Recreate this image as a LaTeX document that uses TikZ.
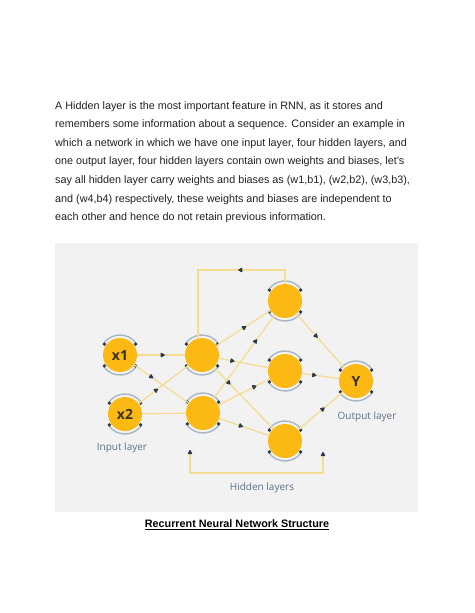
\documentclass[tikz,border=0pt]{standalone}
\usepackage{fontspec}
\setmainfont{Liberation Sans}
\newfontfamily\osans{Open Sans}
\usetikzlibrary{arrows.meta,decorations.markings,calc}
\definecolor{panelc}{HTML}{F2F2F2}
\definecolor{nodec}{HTML}{FDB913}
\definecolor{linec}{HTML}{F4DD92}
\definecolor{arrc}{HTML}{2C3B4A}
\definecolor{ringc}{HTML}{A8B6C4}
\definecolor{labc}{HTML}{5C7088}
\definecolor{txtc}{HTML}{222222}
\definecolor{nlabc}{HTML}{3A3320}
\tikzset{
  neuron/.style={circle, fill=nodec, minimum size=34pt, inner sep=0pt, outer sep=0pt,
    font=\osans\bfseries\fontsize{14}{14}\selectfont, text=nlabc},
  conn/.style={draw=linec, line width=1.3pt},
  midarr/.style={postaction={decorate}, decoration={markings,
    mark=at position #1 with {\arrow{Triangle[length=5pt,width=5pt,round,color=arrc]}}}},
  ring/.style={draw=ringc, line width=1.4pt},
  ringdot/.style={fill=arrc},
  para/.style={anchor=base west, inner sep=0pt, text=txtc, font=\fontsize{10.8}{13}\selectfont},
  layerlab/.style={text=labc, font=\osans\fontsize{10}{12}\selectfont, inner sep=0pt},
}
\begin{document}
\begin{tikzpicture}[x=1pt,y=1pt]
\useasboundingbox (0,0) rectangle (474,-613);
\fill[white] (0,0) rectangle (474,-613);
% paragraph
\node[para] (p1) at (55,-109) {A Hidden layer is the most important feature in RNN, as it stores and};
\node[para] (p2) at (55,-127.6) {remembers some information about a sequence. Consider an example in};
\node[para] (p3) at (55,-146.2) {which a network in which we have one input layer, four hidden layers, and};
\node[para] (p4) at (55,-164.8) {one output layer, four hidden layers contain own weights and biases, let's};
\node[para] (p5) at (55,-183.4) {say all hidden layer carry weights and biases as (w1,b1), (w2,b2), (w3,b3),};
\node[para] (p6) at (55,-202) {and (w4,b4) respectively, these weights and biases are independent to};
\node[para] (p7) at (55,-220.6) {each other and hence do not retain previous information.};
% panel
\fill[panelc] (55,-243) rectangle (418,-512);
% neurons
\node[neuron] (x1) at (120,-355) {x1};
\node[neuron] (x2) at (125,-414) {x2};
\node[neuron] (h1) at (202,-355) {};
\node[neuron] (h2) at (203,-413) {};
\node[neuron] (T) at (285,-301) {};
\node[neuron] (M) at (285,-371) {};
\node[neuron] (B) at (285,-441) {};
\node[neuron] (Y) at (356,-381) {Y};
% rings
\foreach \n in {x1,x2,h1,h2,T,M,B,Y}{
  \draw[ring] ([shift={(35:20)}]\n.center) arc[start angle=35,end angle=145,radius=20];
  \draw[ring] ([shift={(215:20)}]\n.center) arc[start angle=215,end angle=325,radius=20];
  \foreach \a in {35,145,215,325}{
    \fill[ringdot] ([shift={(\a:19)}]\n.center) circle[radius=1.9];
  }
}
% connections
\draw[conn, midarr=0.58] (x1) -- (h1);
\draw[conn, midarr=0.35] (x1) -- (h2);
\draw[conn, midarr=0.39] (x2) -- (h1);
\draw[conn] (x2) -- (h2);
\draw[conn, midarr=0.55] (h1) -- (T);
\draw[conn, midarr=0.32] (h1) -- (M);
\draw[conn, midarr=0.28] (h1) -- (B);
\draw[conn, midarr=0.71] (h2) -- (T);
\draw[conn, midarr=0.74] (h2) -- (M);
\draw[conn, midarr=0.48] (h2) -- (B);
\draw[conn, midarr=0.44] (T) -- (Y);
\draw[conn, midarr=0.39] (M) -- (Y);
\draw[conn, midarr=0.59] (B) -- (Y);
% feedback loops
\draw[conn, midarr=0.36] (T.north) -- ++(0,14) -| ([xshift=-4pt]h1.north);
\coordinate (fbL) at (190,-450);
\coordinate (fbR) at (323,-452);
\draw[conn, {Triangle[length=5pt,width=5pt,round,color=arrc]}-{Triangle[length=5pt,width=5pt,round,color=arrc]}]
  (fbL) -- ++(0,-23) -| (fbR);
% labels
\node[layerlab] (lin) at (122,-448) {Input layer};
\node[layerlab] (lout) at (367,-417) {Output layer};
\node[layerlab] (lhid) at (262,-488) {Hidden layers};
% caption
\node[inner sep=0pt, font=\bfseries\fontsize{10.8}{13}\selectfont] (cap) at (237,-525) {\underline{Recurrent Neural Network Structure}};
\end{tikzpicture}
\end{document}
